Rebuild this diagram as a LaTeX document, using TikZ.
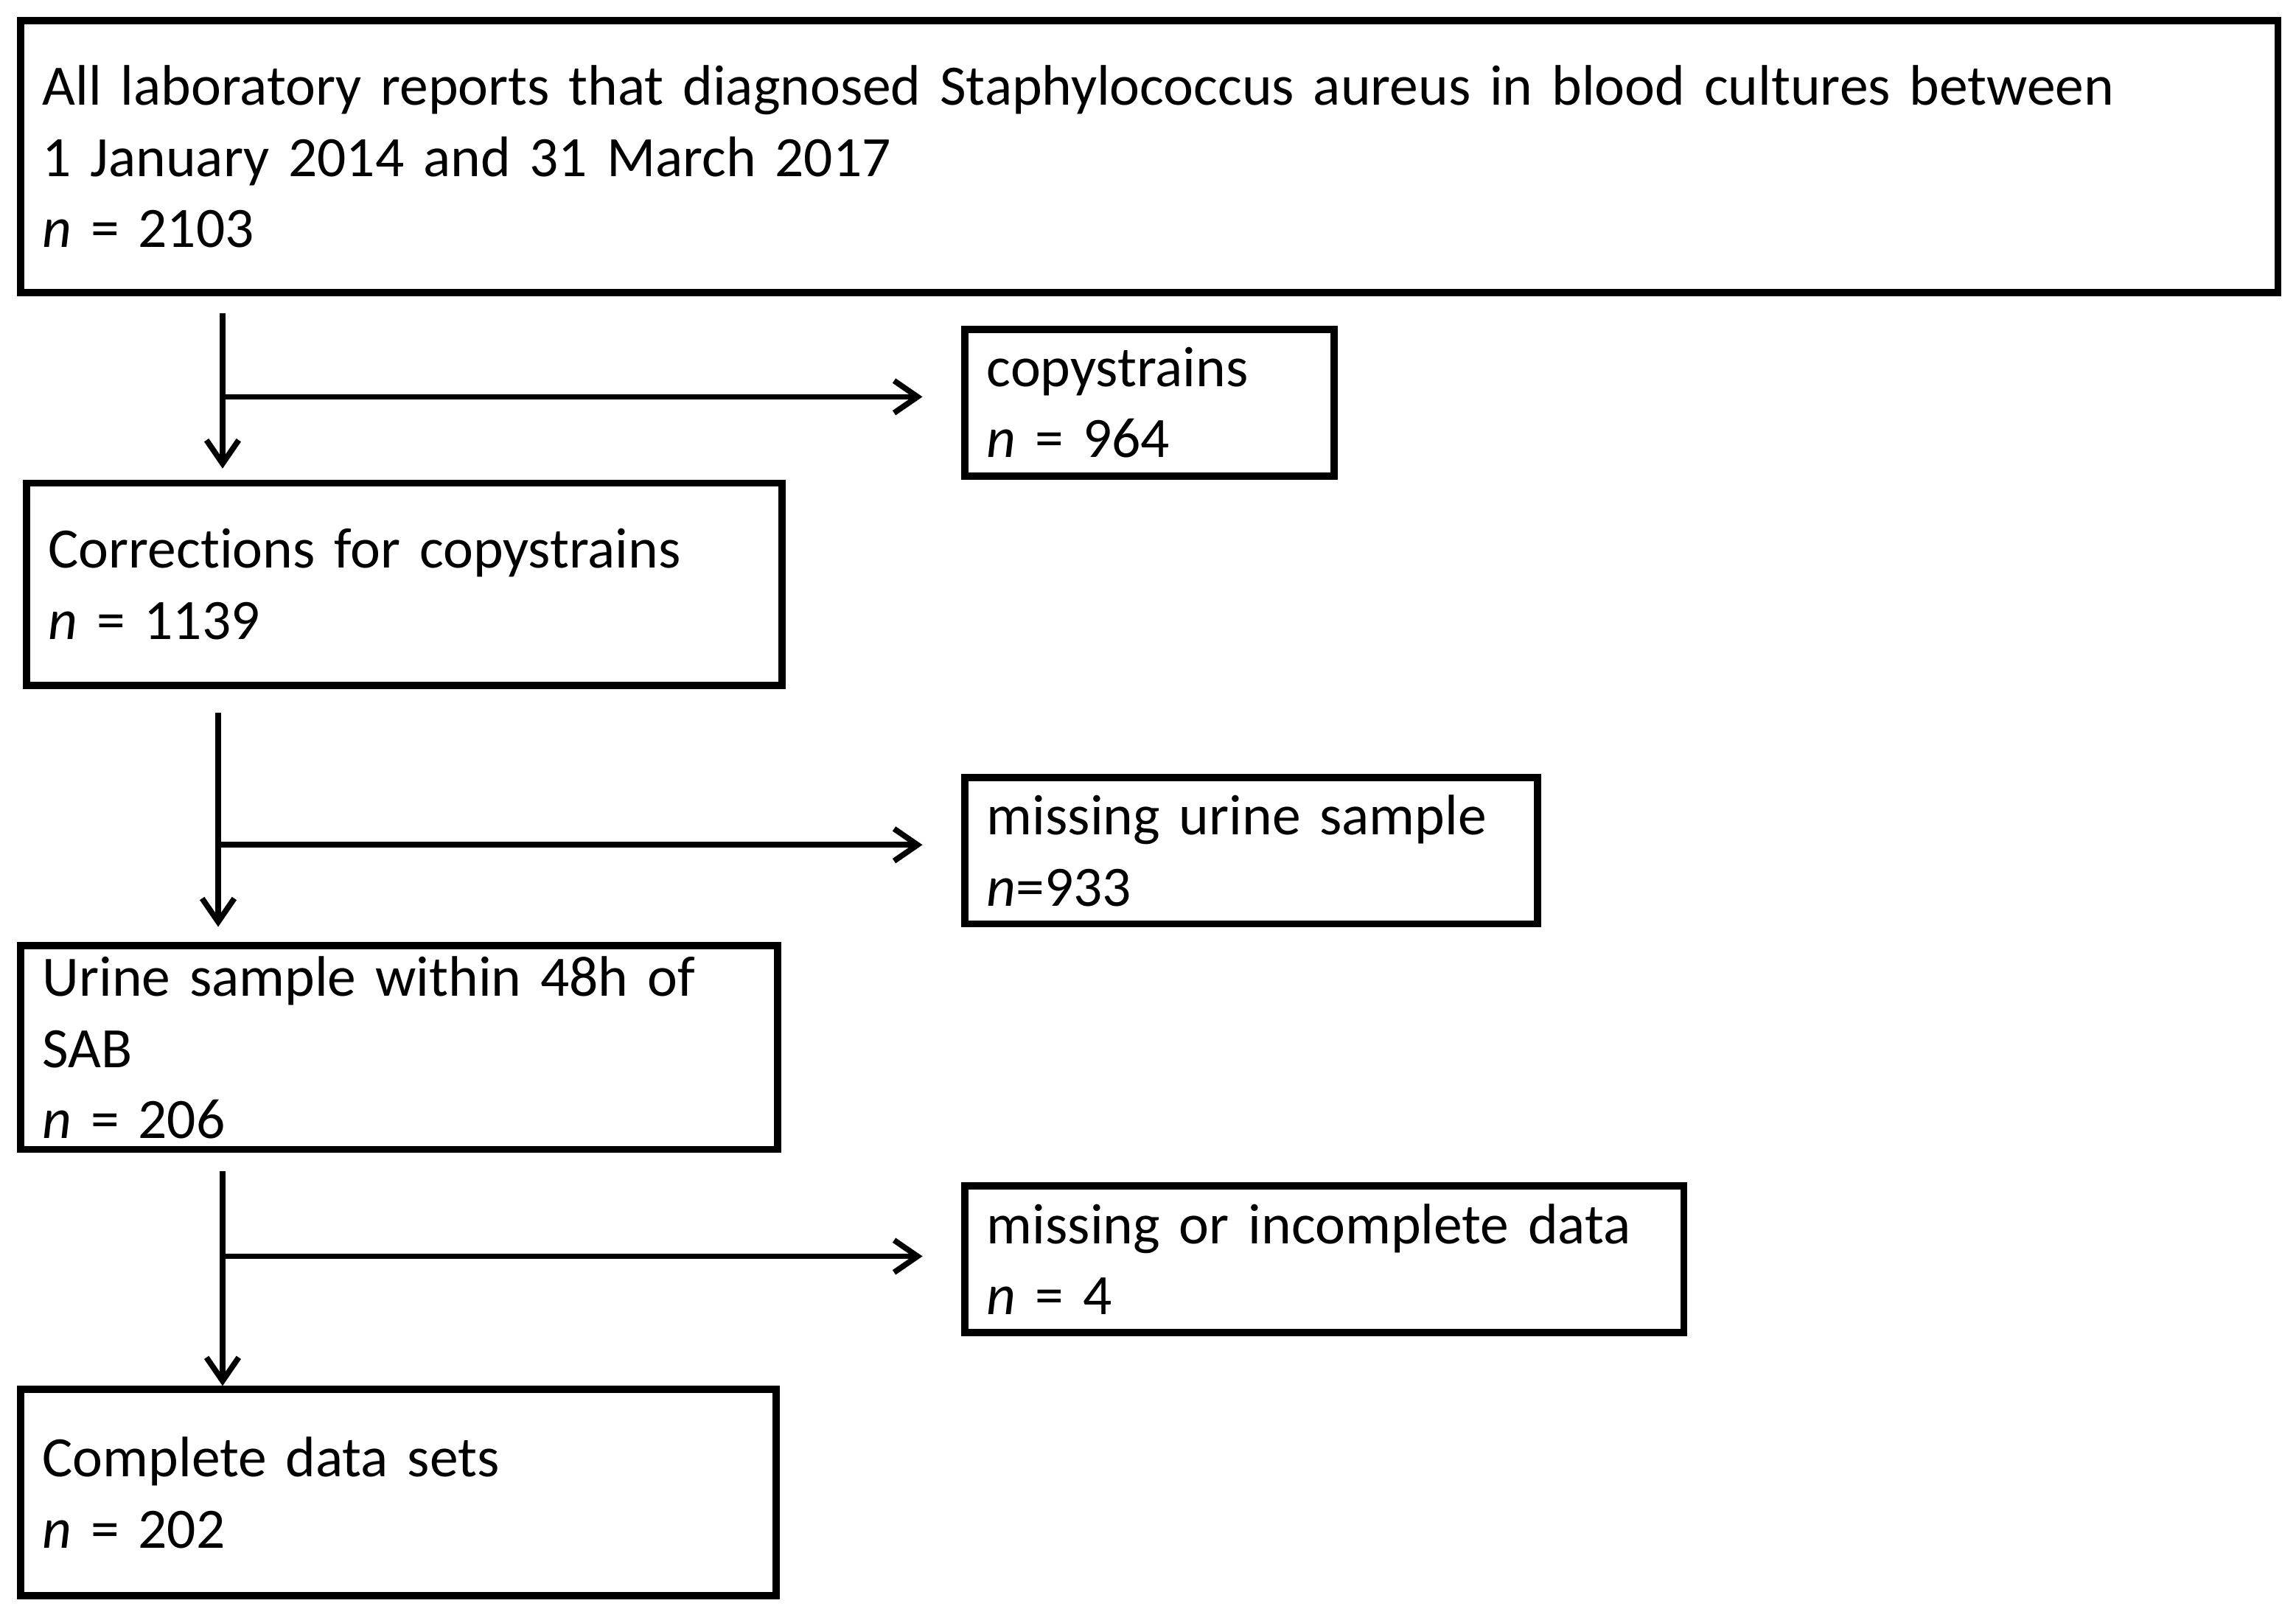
\documentclass[tikz,border=0pt]{standalone}
\usepackage{fontspec}
\setmainfont{Carlito}[Ligatures=NoCommon]
\usepackage{tikz}
\usetikzlibrary{arrows.meta}

\tikzset{
	stepbox/.style={draw, line width=2.8pt, rectangle, anchor=north west, outer sep=0pt,
		inner xsep=0.3cm, inner ysep=0pt, align=left,
		font=\fontsize{22.2}{27.6}\selectfont},
	flow/.style={line width=2.2pt, -{Straight Barb[length=0.32cm,width=0.44cm,line width=2.2pt]}}
}

\begin{document}
\begin{tikzpicture}[x=0.02cm, y=-0.02cm]
	\useasboundingbox (0,0) rectangle (1568,1106);

	% boxes
	\node[stepbox, text width=30.24cm, minimum height=3.72cm] (all) at (14,14)
		{All laboratory reports that diagnosed Staphylococcus aureus in blood cultures between\\
		 1 January 2014 and 31 March 2017\\
		 \textit{n} = 2103};
	\node[stepbox, text width=4.44cm, minimum height=2cm] (copy) at (659,225)
		{copystrains\\ \textit{n} = 964};
	\node[stepbox, text width=9.72cm, minimum height=2.76cm] (corr) at (18,330)
		{Corrections for copystrains\\ \textit{n} = 1139};
	\node[stepbox, text width=7.22cm, minimum height=2cm] (nourine) at (659,531)
		{missing urine sample\\ \textit{n}=933};
	\node[stepbox, text width=9.74cm, minimum height=2.78cm] (urine) at (14,646)
		{Urine sample within 48h of\\ SAB\\ \textit{n} = 206};
	\node[stepbox, text width=9.22cm, minimum height=2cm] (nodata) at (659,810)
		{missing or incomplete data\\ \textit{n} = 4};
	\node[stepbox, text width=9.72cm, minimum height=2.82cm] (done) at (14,949)
		{Complete data sets\\ \textit{n} = 202};

	% branch points
	\coordinate (j1) at (152,271);
	\coordinate (j2) at (149,577);
	\coordinate (j3) at (152,858);

	% arrows
	\draw[flow, shorten <=0.28cm, shorten >=0.2cm] (all.south -| j1) -- (corr.north -| j1);
	\draw[flow, shorten >=0.58cm] (j1) -- (copy.west |- j1);
	\draw[flow, shorten <=0.38cm, shorten >=0.26cm] (corr.south -| j2) -- (urine.north -| j2);
	\draw[flow, shorten >=0.58cm] (j2) -- (nourine.west |- j2);
	\draw[flow, shorten <=0.3cm, shorten >=0.05cm] (urine.south -| j3) -- (done.north -| j3);
	\draw[flow, shorten >=0.58cm] (j3) -- (nodata.west |- j3);
\end{tikzpicture}
\end{document}
